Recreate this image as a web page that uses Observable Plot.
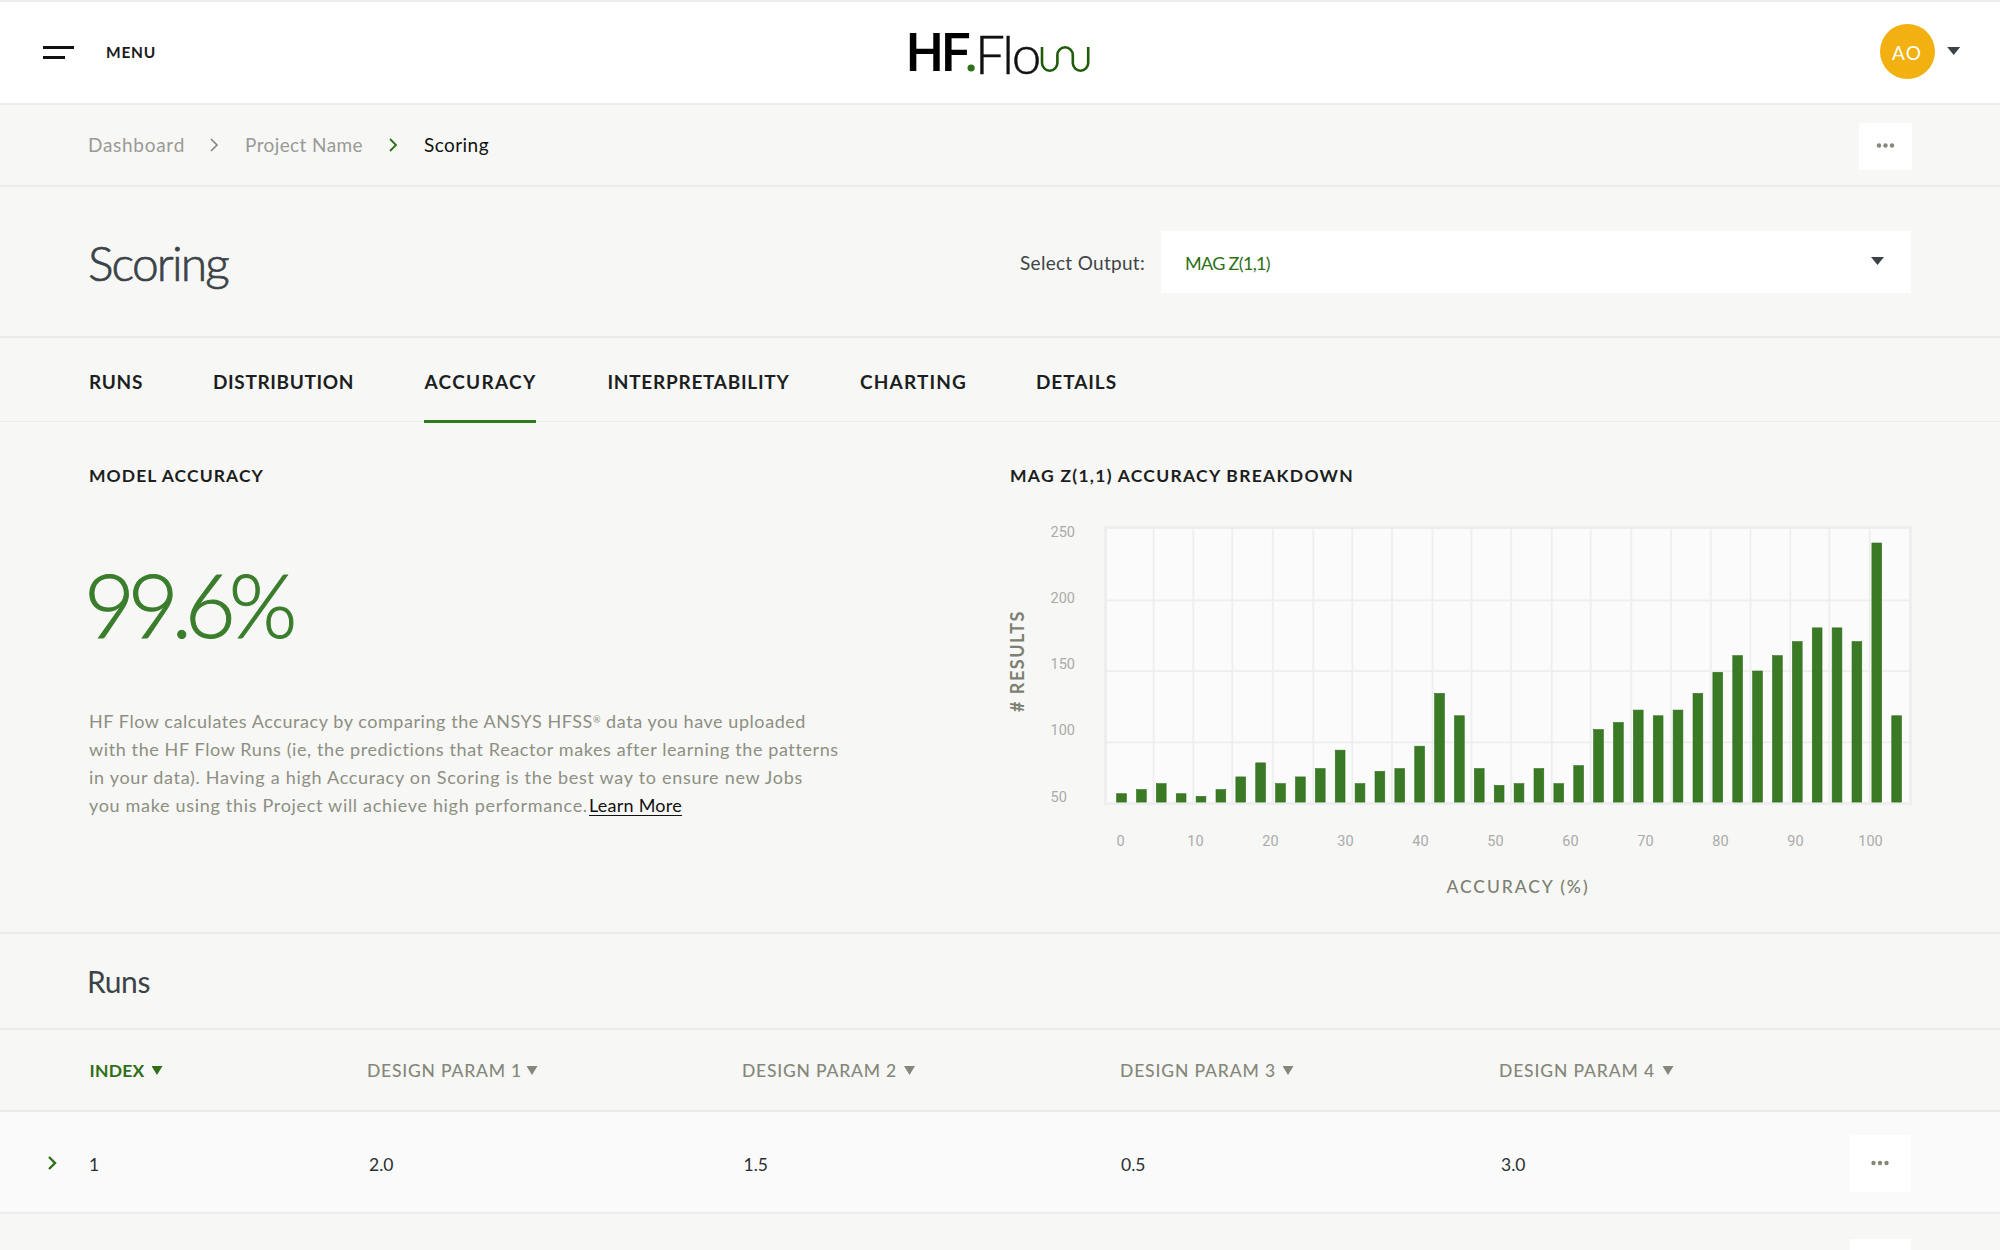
<!DOCTYPE html>
<html lang="en">
<head>
<meta charset="utf-8">
<title>HF Flow Scoring</title>
<script src="https://cdn.jsdelivr.net/npm/d3@7"></script>
<script src="https://cdn.jsdelivr.net/npm/@observablehq/plot@0.6"></script>
<style>
html,body{margin:0;padding:0;background:#f7f7f5;}
body{position:relative;width:2000px;height:1250px;overflow:hidden;font-family:Lato,"Noto Sans",sans-serif;color:#111;}
.t{position:absolute;white-space:nowrap;line-height:1;transform:translateY(-50%);}
.t sup{font-size:9px;line-height:0;vertical-align:0.6em;}
.box{position:absolute;}
.tri{position:absolute;clip-path:polygon(0 0,100% 0,50% 100%);}
svg.icon{position:absolute;left:0;top:0;overflow:visible;pointer-events:none;}
#chart{position:absolute;left:1000px;top:500px;}
#chart svg{background:transparent;}
</style>
</head>
<body>
<div id="chart"></div>
<script>
// ---- chart data ----
const accuracyBins = [0.2,2.85,5.5,8.15,10.8,13.45,16.1,18.75,21.4,24.05,26.7,29.35,32,34.65,37.3,39.95,42.6,45.25,47.9,50.55,53.2,55.85,58.5,61.15,63.8,66.45,69.1,71.75,74.4,77.05,79.7,82.35,85,87.65,90.3,92.95,95.6,98.25,100.9,103.55];
const resultCounts = [52.5,55.6,60.1,52.5,50.5,55.6,65.2,75.8,60.1,65.2,71.5,85.4,60.1,69.4,71.5,88.4,128.3,111.4,71.5,58.8,60.1,71.5,60.1,73.7,101,106.3,115.7,111.4,115.7,128.3,144.2,156.8,145.2,156.8,167.4,177.8,177.8,167.4,241.9,111.4];
const xTicks = [0,10,20,30,40,50,60,70,80,90,100];
const yTicks = [50,100,150,200,250];
const xGrid = [4.4,9.7,14.9,20.3,25.7,30.9,36.2,41.6,46.8,52.1,57.5,62.7,68.1,73.4,78.7,84,89.3,94.5,99.9];
const yGrid = [91.7,145.5,199];
const xDomain = [-2,105.33];
const yDomain = [45.5,254];
const barBase = 46.2;
const barHalfWidth = 0.65;
const xTitle = "ACCURACY (%)";
const yTitle = "# RESULTS";

// ---- page text ----
const tabNames = ["RUNS","DISTRIBUTION","ACCURACY","INTERPRETABILITY","CHARTING","DETAILS"];
const crumbs = ["Dashboard","Project Name","Scoring"];
const columnNames = ["INDEX","DESIGN PARAM 1","DESIGN PARAM 2","DESIGN PARAM 3","DESIGN PARAM 4"];
const firstRow = ["1","2.0","1.5","0.5","3.0"];
const paragraph = [
 "HF Flow calculates Accuracy by comparing the ANSYS HFSS® data you have uploaded",
 "with the HF Flow Runs (ie, the predictions that Reactor makes after learning the patterns",
 "in your data). Having a high Accuracy on Scoring is the best way to ensure new Jobs",
 "you make using this Project will achieve high performance. "
];

// ---- page helpers ----
const body = document.body;
function box(x,y,w,h,bg){const d=document.createElement("div");d.className="box";d.style.cssText=`left:${x}px;top:${y}px;width:${w}px;height:${h}px;background:${bg}`;body.appendChild(d);return d;}
function tri(cx,y,w,h,c){const d=document.createElement("div");d.className="tri";d.style.cssText=`left:${cx-w/2}px;top:${y}px;width:${w}px;height:${h}px;background:${c}`;body.appendChild(d);}
function txt(s,x,cy,o={}){const d=document.createElement("div");d.className="t";d.textContent=s;
 d.style.left=x+"px";d.style.top=cy+"px";d.style.fontSize=(o.size||18)+"px";d.style.color=o.color||"#111";
 d.style.fontWeight=o.weight||400;d.style.fontFamily=o.font||"Lato";body.appendChild(d);
 if(o.html) d.innerHTML=o.html;
 if(o.stroke) d.style.webkitTextStroke=o.stroke+"px "+(o.color||"#111");
 if(o.w){const n=s.length;const w=d.getBoundingClientRect().width;d.style.letterSpacing=((o.w-w)/n)+"px";}
 return d;}
const NS="http://www.w3.org/2000/svg";
const icons=document.createElementNS(NS,"svg");icons.setAttribute("class","icon");icons.setAttribute("width",2000);icons.setAttribute("height",1250);
function path(d,stroke,sw){const p=document.createElementNS(NS,"path");p.setAttribute("d",d);p.setAttribute("fill","none");p.setAttribute("stroke",stroke);p.setAttribute("stroke-width",sw);icons.appendChild(p);}
function dots(cx,cy){[-6.5,0,6.5].forEach(dx=>{const c=document.createElementNS(NS,"circle");c.setAttribute("cx",cx+dx);c.setAttribute("cy",cy);c.setAttribute("r",2.2);c.setAttribute("fill","#85877c");icons.appendChild(c);});}
function chev(cx,cy,c,sw){path(`M${cx-3},${cy-6} L${cx+3},${cy} L${cx-3},${cy+6}`,c,sw);}

const LINE="#ececea", GREEN="#2f6f17", MUTED="#85877a";

// header
box(0,0,2000,103,"#fff"); box(0,0,2000,1.5,"#ececea"); box(0,103,2000,2,LINE);
box(43,45.5,31,3,"#111"); box(43,56,22,3,"#111");
txt("MENU",106,52.5,{size:15.5,weight:700,color:"#1a1a1a",w:50});
txt("HF",906,53,{size:53,weight:500,font:"Roboto",color:"#000",w:62});
txt(".",964,53,{size:53,weight:500,font:"Roboto",color:GREEN});
txt("Flo",975,53,{size:53,weight:300,stroke:0.5,color:"#111",w:64});
path("M1042,47 V63 a7.7,7.7 0 0 0 15.4,0 V55 a7.7,7.7 0 0 1 15.4,0 V63 a7.7,7.7 0 0 0 15.4,0 V47","#1f5c0a",2.6);
{const a=box(1879.5,23.5,55.5,55.5,"#f2b111");a.style.borderRadius="50%";}
txt("AO",1892,52,{size:19,weight:400,color:"#fff",w:30});
tri(1953.7,47,13,8,"#3b4347");

// breadcrumb
box(0,185,2000,2,LINE);
txt(crumbs[0],88,144,{size:19,color:"#9a9a96",w:97});
chev(214,145,"#85877c",1.6);
txt(crumbs[1],245,144,{size:19,color:"#9a9a96",w:118});
chev(393,145,GREEN,1.8);
txt(crumbs[2],424,144,{size:19,color:"#111",w:65});
box(1858.5,122.5,53,47,"#fff"); dots(1885.5,145.5);

// title row
txt("Scoring",88,263,{size:48,weight:300,stroke:0.7,color:"#3b4347",w:140});
txt("Select Output:",1020,262,{size:19,color:"#3e4447",w:125});
box(1161,231,750,62,"#fff");
txt("MAG Z(1,1)",1185,263,{size:18,color:GREEN,w:85});
tri(1877.5,257,13,8,"#3b4347");
box(0,336,2000,1.5,LINE);

// tabs
const tabX=[[89,54],[213,141],[424.5,112],[607.5,182],[860,107],[1036,81]];
tabNames.forEach((n,i)=>txt(n,tabX[i][0],380.5,{size:19,weight:700,color:"#1c1f21",w:tabX[i][1]}));
box(0,420.5,2000,1.5,LINE);
box(423.5,419.5,112.5,3,"#2f7a1d");

// left column
txt("MODEL ACCURACY",89,476,{size:17.5,weight:700,color:"#1c1f21",w:175});
txt("99.6%",84,604,{size:88,weight:300,stroke:1,color:"#3a7d2c",w:206});
const paraW=[717,749,714];
paragraph.slice(0,3).forEach((s,i)=>{
  const html=s.includes("®")?s.replace("®","<sup>®</sup>"):null;
  txt(s,89,721+i*27.8,{size:18,color:"#8d8f82",w:paraW[i],html});
});
{txt(paragraph[3],89,804.5,{size:18,color:"#8d8f82",w:499.5});
 const a=txt("Learn More",589,804.5,{size:18,color:"#111",w:93});a.style.textDecoration="underline";a.style.textUnderlineOffset="3px";}

// chart heading
txt("MAG Z(1,1) ACCURACY BREAKDOWN",1010,476,{size:17.5,weight:700,color:"#1c1f21",w:344});

// runs
box(0,932,2000,2,LINE);
txt("Runs",87,980.5,{size:30,weight:400,color:"#3b4347",w:63});
box(0,1028,2000,1.5,LINE);
const colX=[[89.5,55,157],[367,155,532],[742,155,909.5],[1120,156,1288],[1499,156,1668]];
columnNames.forEach((n,i)=>{const c=i===0?GREEN:MUTED;txt(n,colX[i][0],1070.5,{size:17.5,weight:i===0?700:500,color:c,w:colX[i][1]});tri(colX[i][2],1066,11,9,c);});
box(0,1110,2000,103,"#fafafa");box(0,1110,2000,1.5,LINE);box(0,1212,2000,2,LINE);
chev(52,1163,GREEN,2.4);
const rowX=[89,369,743.5,1121,1501];
firstRow.forEach((v,i)=>txt(v,rowX[i],1165,{size:17.5,color:"#2b2f31"}));
box(1849.5,1135,61.5,57,"#fff");dots(1880,1163);
box(1849.5,1239,61.5,11,"#fff");
body.appendChild(icons);

// ---- chart ----
const table = accuracyBins.map((b,i)=>({bin:b,count:resultCounts[i]}));
const plot = Plot.plot({
  width:940,height:420,
  marginLeft:105,marginRight:30,marginTop:27,marginBottom:117,
  style:{background:"transparent",fontFamily:"Roboto",fontSize:"14.5px",color:"#ababab"},
  x:{domain:xDomain,axis:null},
  y:{domain:yDomain,axis:null},
  marks:[
    Plot.frame({fill:"#fbfbfb",stroke:"#eeeeee",strokeWidth:3}),
    Plot.ruleX(xGrid,{stroke:"#eeeeee",strokeWidth:1.8}),
    Plot.ruleY(yGrid,{stroke:"#eeeeee",strokeWidth:1.8}),
    Plot.rect(table,{x1:d=>d.bin-barHalfWidth,x2:d=>d.bin+barHalfWidth,y1:barBase,y2:"count",fill:"#3a7a24",stroke:"#2f6f1c",strokeWidth:0.6}),
    Plot.axisX({anchor:"bottom",ticks:xTicks,tickSize:0,tickPadding:32,label:null,fill:"#ababab"}),
    Plot.axisY({anchor:"left",ticks:yTicks,tickSize:0,tickPadding:55,textAnchor:"start",dy:-0.5,label:null,fill:"#ababab"}),
    Plot.text([xTitle],{frameAnchor:"bottom",dx:10,dy:89,fontFamily:"Lato",fontSize:17.5,fontWeight:500,fill:"#7d8072"}),
    Plot.text([yTitle],{frameAnchor:"left",textAnchor:"middle",dx:-87,dy:-4.5,rotate:-90,fontFamily:"Lato",fontSize:18,fontWeight:700,fill:"#7d8072"})
  ]
});
document.getElementById("chart").appendChild(plot);
plot.querySelectorAll("text").forEach(t=>{
  const s=t.textContent;
  const target=s===xTitle?143:s===yTitle?102:null;
  if(target){const n=s.length;t.style.letterSpacing=((target-t.getComputedTextLength())/n)+"px";}
});
</script>
</body>
</html>
